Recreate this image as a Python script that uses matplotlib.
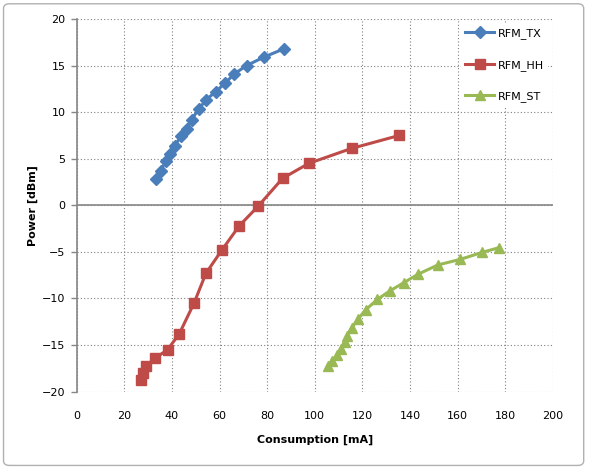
import matplotlib
matplotlib.use("Agg")
import matplotlib.pyplot as plt
from matplotlib.patches import FancyBboxPatch

# RFM_TX
tx_ma = [33.3, 35.3, 37.4, 39.2, 41.3, 43.7, 46.2, 48.3, 51.2, 54.3, 58.4, 62.3, 66.2, 71.4, 78.6, 87.1]
tx_dbm = [2.8, 3.7, 4.7, 5.5, 6.4, 7.4, 8.2, 9.2, 10.3, 11.3, 12.2, 13.1, 14.1, 15.0, 15.9, 16.8]

# RFM_HH
hh_ma = [27.0, 28.0, 29.0, 33.0, 38.2, 43.1, 49.3, 54.3, 61.0, 68.3, 76.2, 86.5, 97.5, 115.4, 135.5]
hh_dbm = [-18.8, -18.0, -17.3, -16.4, -15.5, -13.8, -10.5, -7.3, -4.8, -2.2, -0.1, 2.9, 4.5, 6.1, 7.5]

# RFM_ST
st_ma = [105.6, 107.4, 109.1, 110.8, 112.6, 113.5, 115.4, 118.2, 121.4, 126.3, 131.4, 137.4, 143.3,
         151.7, 161.1, 170.3, 177.3]
st_dbm = [-17.3, -16.7, -16.1, -15.4, -14.7, -14.0, -13.2, -12.2, -11.2, -10.1, -9.2, -8.3, -7.4,
          -6.4, -5.8, -5.05, -4.55]

plt.rcParams['font.family'] = ['DejaVu Sans']

fig = plt.figure(figsize=(5.89, 4.73), dpi=100)
fig.patches.append(FancyBboxPatch((0.006, 0.016), 0.985, 0.976, boxstyle="round,pad=0,rounding_size=0.01",
                                  transform=fig.transFigure, facecolor='white', edgecolor='#b0b0b0',
                                  linewidth=1.0, zorder=-1))
ax = fig.add_axes([0.130, 0.172, 0.809, 0.788])

ax.plot(tx_ma, tx_dbm, color='#4a7ebb', lw=2.2, marker='D', ms=6, label='RFM_TX')
ax.plot(hh_ma, hh_dbm, color='#be4b48', lw=2.2, marker='s', ms=7.5, label='RFM_HH')
ax.plot(st_ma, st_dbm, color='#98b954', lw=2.2, marker='^', ms=7.5, label='RFM_ST')

ax.set_xlim(0, 200)
ax.set_ylim(-20, 20)
ax.set_xticks(range(0, 201, 20))
ax.set_yticks(range(-20, 21, 5))
ax.grid(True, color='#808080', linestyle=(0, (1, 2)), linewidth=0.8)
ax.set_axisbelow(True)
ax.axhline(0, color='#868686', lw=1.2, zorder=1)

for s in ['top', 'right', 'bottom']:
    ax.spines[s].set_visible(False)
ax.spines['left'].set_color('#868686')
ax.spines['left'].set_linewidth(1.2)

ax.tick_params(axis='y', colors='#868686', length=4, width=1, labelsize=8, labelcolor='black', pad=4)
ax.tick_params(axis='x', length=0, labelsize=8, labelcolor='black', pad=14)

ax.set_xlabel('Consumption [mA]', fontsize=8, fontweight='bold', labelpad=10)
ax.set_ylabel('Power [dBm]', fontsize=8, fontweight='bold', labelpad=3)

leg = ax.legend(loc='upper right', frameon=True, fontsize=8, handlelength=2.6, labelspacing=1.85,
                borderaxespad=0.45, handletextpad=0.3, fancybox=False)
leg.get_frame().set_edgecolor('none')
leg.get_frame().set_facecolor('white')
leg.get_frame().set_alpha(1)

fig.savefig('out.png', dpi=100)
